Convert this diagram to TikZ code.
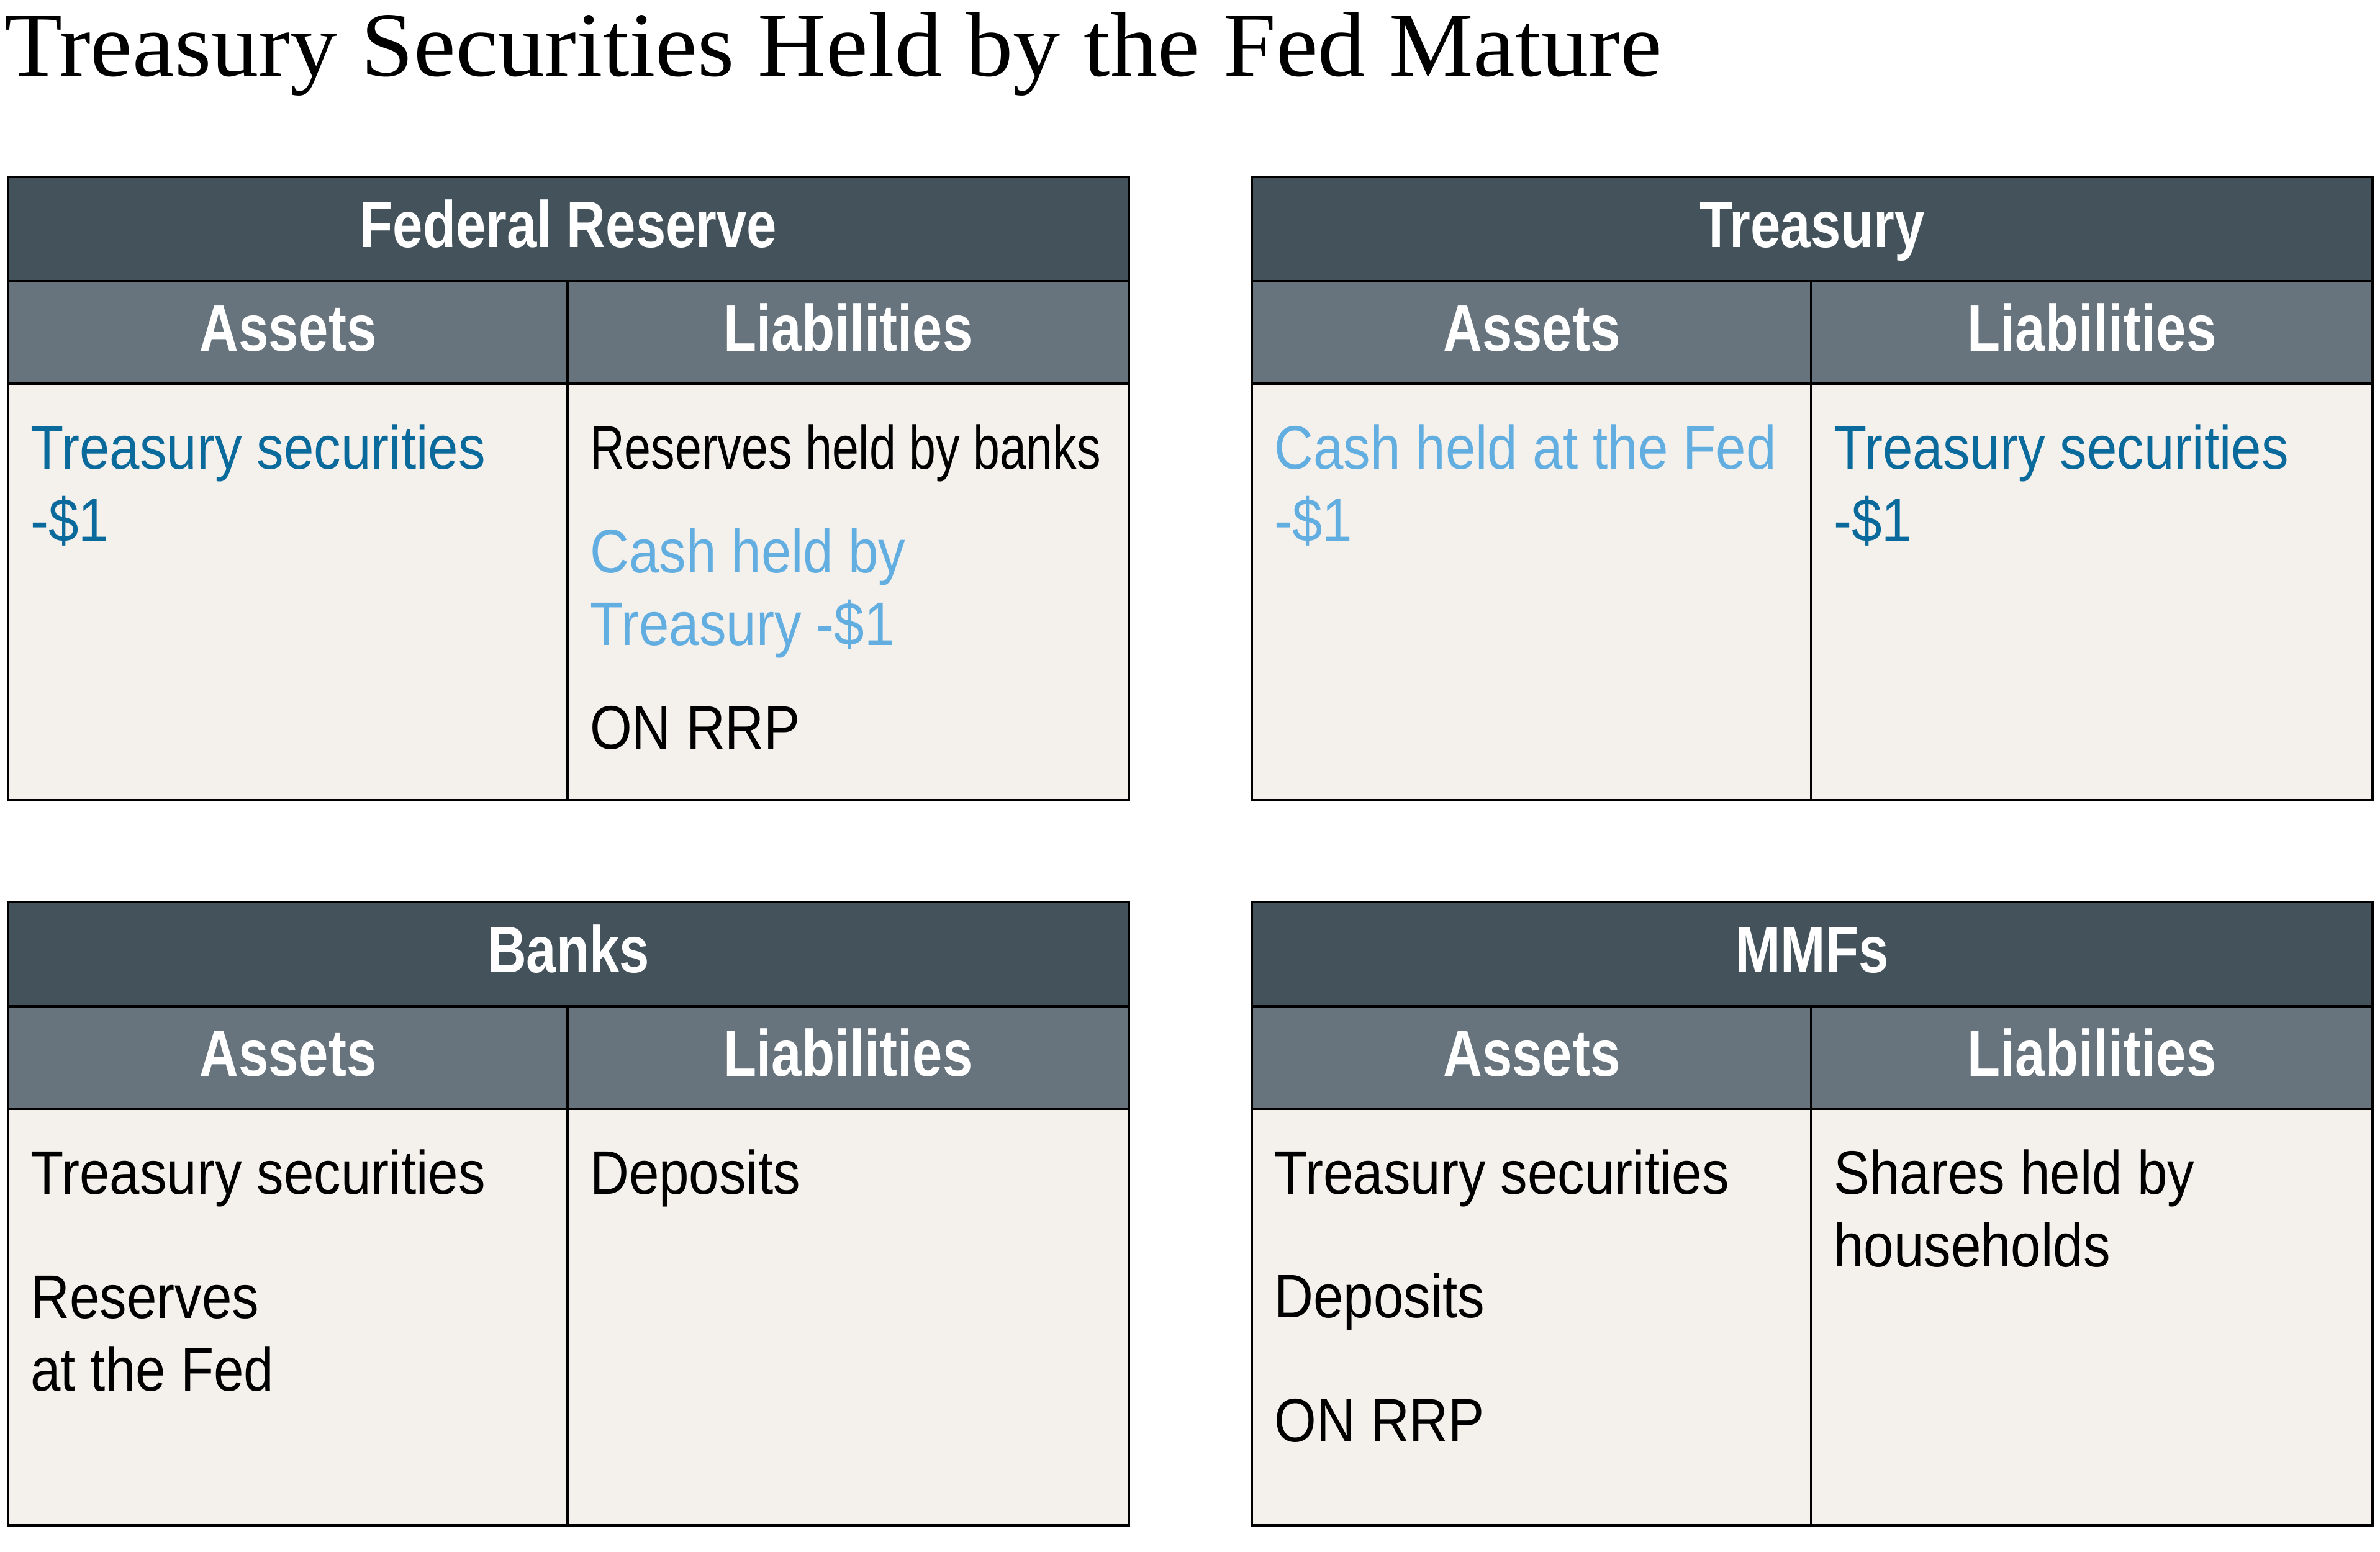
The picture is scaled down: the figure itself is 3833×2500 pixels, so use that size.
\documentclass[tikz,border=0pt]{standalone}
\usepackage{fontspec}
\newfontfamily\titlefont[FakeStretch=1.03]{Liberation Serif}
\newfontfamily\headfont[FakeStretch=0.82]{Liberation Sans}
\newfontfamily\bodyfont[FakeStretch=0.88]{Liberation Sans}
\definecolor{hdrc}{HTML}{44525B}
\definecolor{subc}{HTML}{67747D}
\definecolor{bodyc}{HTML}{F4F1EC}
\definecolor{dblue}{HTML}{0A6A9B}
\definecolor{lblue}{HTML}{62AEE0}
\tikzset{
  tline/.style={draw=black,line width=4.5pt},
  hdrtext/.style={anchor=base,inner sep=0pt,text=white,font=\headfont\bfseries\fontsize{106}{120}\selectfont},
  bodytext/.style={anchor=base west,inner sep=0pt,font=\bodyfont\fontsize{99}{117}\selectfont},
}
\newcommand\baltable[2]{%
  \fill[hdrc] (0,0) rectangle (1805,168);
  \fill[subc] (0,168) rectangle (1805,333);
  \fill[bodyc] (0,333) rectangle (1805,1004);
  \draw[tline] (0,168) -- (1805,168);
  \draw[tline] (0,333) -- (1805,333);
  \draw[tline] (901,168) -- (901,1004);
  \draw[tline] (0,0) rectangle (1805,1004);
  \node[hdrtext] (#1-title) at (902.5,113) {#2};
  \node[hdrtext] (#1-assets) at (451,280) {Assets};
  \node[hdrtext] (#1-liab) at (1353,280) {Liabilities};
}
\begin{document}
\begin{tikzpicture}[x=1pt,y=-1pt]
\useasboundingbox (0,0) rectangle (3833,2500);
\node[anchor=base west,inner sep=0pt,font=\titlefont\fontsize{148}{160}\selectfont] (title) at (7,122) {Treasury Securities Held by the Fed Mature};

% Federal Reserve
\begin{scope}[shift={(13,285)}]
  \baltable{fed}{Federal Reserve}
  \node[bodytext,text=dblue] (fed-a1) at (36,470) {Treasury securities};
  \node[bodytext,text=dblue] (fed-a2) at (36,587) {-\$1};
  \node[bodytext] (fed-l1) at (937,470) {\scalebox{0.885}[1]{Reserves held by banks}};
  \node[bodytext,text=lblue] (fed-l2) at (937,637) {Cash held by};
  \node[bodytext,text=lblue] (fed-l3) at (937,754) {Treasury -\$1};
  \node[bodytext] (fed-l4) at (937,921) {ON RRP};
\end{scope}

% Treasury
\begin{scope}[shift={(2016,285)}]
  \baltable{tre}{Treasury}
  \node[bodytext,text=lblue] (tre-a1) at (36,470) {Cash held at the Fed};
  \node[bodytext,text=lblue] (tre-a2) at (36,587) {-\$1};
  \node[bodytext,text=dblue] (tre-l1) at (937,470) {Treasury securities};
  \node[bodytext,text=dblue] (tre-l2) at (937,587) {-\$1};
\end{scope}

% Banks
\begin{scope}[shift={(13,1453)}]
  \baltable{bank}{Banks}
  \node[bodytext] (bank-a1) at (36,470) {Treasury securities};
  \node[bodytext] (bank-a2) at (36,670) {Reserves};
  \node[bodytext] (bank-a3) at (36,787) {at the Fed};
  \node[bodytext] (bank-l1) at (937,470) {Deposits};
\end{scope}

% MMFs
\begin{scope}[shift={(2016,1453)}]
  \baltable{mmf}{MMFs}
  \node[bodytext] (mmf-a1) at (36,470) {Treasury securities};
  \node[bodytext] (mmf-a2) at (36,669) {Deposits};
  \node[bodytext] (mmf-a3) at (36,869) {ON RRP};
  \node[bodytext] (mmf-l1) at (937,470) {Shares held by};
  \node[bodytext] (mmf-l2) at (937,587) {households};
\end{scope}
\end{tikzpicture}
\end{document}
